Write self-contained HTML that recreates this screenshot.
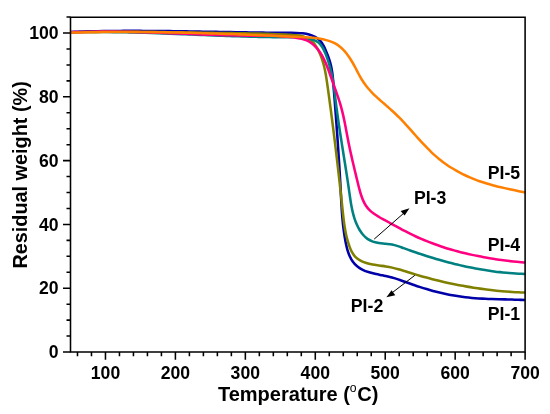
<!DOCTYPE html>
<html><head><meta charset="utf-8"><title>TGA</title><style>html,body{margin:0;padding:0;background:#fff}body{width:550px;height:414px;overflow:hidden}</style></head><body>
<svg width="550" height="414" viewBox="0 0 550 414" style="display:block">
<rect width="550" height="414" fill="#fff"/>
<g fill="none" stroke-width="2.55" stroke-linejoin="round" stroke-linecap="butt">
<path d="M70.50 31.90 C71.60 31.86 74.90 31.75 77.11 31.68 C79.33 31.61 81.55 31.54 83.77 31.48 C85.98 31.42 88.20 31.37 90.41 31.32 C92.63 31.27 94.84 31.22 97.06 31.18 C99.27 31.14 101.48 31.10 103.69 31.07 C105.91 31.04 108.12 31.01 110.33 30.99 C112.54 30.96 114.75 30.94 116.96 30.93 C119.17 30.91 121.37 30.90 123.58 30.89 C125.79 30.88 128.00 30.87 130.21 30.87 C132.41 30.87 134.62 30.87 136.83 30.88 C139.03 30.88 141.24 30.89 143.44 30.90 C145.65 30.91 147.86 30.92 150.06 30.93 C152.27 30.95 154.47 30.97 156.68 30.99 C158.88 31.01 161.09 31.03 163.29 31.05 C165.50 31.08 167.70 31.10 169.91 31.13 C172.11 31.16 174.32 31.19 176.52 31.22 C178.73 31.25 180.93 31.28 183.14 31.32 C185.34 31.35 187.55 31.38 189.75 31.42 C191.96 31.46 194.16 31.49 196.37 31.53 C198.58 31.57 200.78 31.61 202.99 31.65 C205.20 31.68 207.40 31.72 209.61 31.76 C211.82 31.80 214.03 31.84 216.23 31.88 C218.44 31.92 220.65 31.96 222.86 32.00 C225.07 32.04 227.28 32.08 229.49 32.12 C231.70 32.16 233.91 32.20 236.12 32.23 C238.34 32.27 240.55 32.31 242.76 32.34 C244.98 32.38 247.19 32.41 249.41 32.44 C251.62 32.48 253.84 32.51 256.05 32.54 C258.27 32.57 260.49 32.60 262.71 32.63 C264.93 32.65 267.15 32.68 269.37 32.70 C271.59 32.72 273.81 32.74 276.03 32.76 C278.26 32.78 280.48 32.80 282.71 32.81 C284.93 32.83 287.16 32.83 289.39 32.84 C291.61 32.86 293.85 32.83 296.06 32.91 C298.27 32.99 300.48 33.06 302.64 33.33 C304.80 33.60 306.94 33.93 309.01 34.53 C311.08 35.13 313.16 35.88 315.04 36.93 C316.93 37.99 318.83 39.30 320.31 40.86 C321.79 42.42 322.89 44.36 323.95 46.31 C325.00 48.25 325.76 50.44 326.62 52.53 C327.47 54.62 328.34 56.73 329.05 58.85 C329.76 60.97 330.38 63.10 330.89 65.24 C331.40 67.38 331.76 69.54 332.10 71.71 C332.43 73.87 332.66 76.05 332.88 78.23 C333.11 80.41 333.27 82.60 333.45 84.79 C333.63 86.98 333.80 89.17 333.97 91.37 C334.15 93.56 334.32 95.76 334.49 97.96 C334.67 100.16 334.84 102.36 335.01 104.56 C335.17 106.76 335.34 108.97 335.51 111.17 C335.68 113.38 335.84 115.58 336.01 117.79 C336.17 120.00 336.33 122.21 336.49 124.41 C336.65 126.62 336.81 128.83 336.97 131.04 C337.13 133.25 337.28 135.46 337.44 137.67 C337.59 139.89 337.74 142.10 337.89 144.31 C338.04 146.52 338.19 148.73 338.34 150.94 C338.48 153.15 338.63 155.36 338.77 157.57 C338.91 159.78 339.05 161.99 339.19 164.19 C339.32 166.40 339.46 168.61 339.59 170.81 C339.72 173.02 339.85 175.22 339.98 177.43 C340.10 179.63 340.23 181.83 340.35 184.03 C340.47 186.23 340.59 188.43 340.70 190.63 C340.82 192.82 340.93 195.02 341.04 197.21 C341.16 199.40 341.27 201.59 341.40 203.79 C341.53 205.98 341.66 208.17 341.81 210.37 C341.96 212.56 342.11 214.75 342.30 216.95 C342.48 219.15 342.68 221.35 342.92 223.55 C343.15 225.75 343.40 227.96 343.70 230.17 C343.99 232.38 344.31 234.60 344.67 236.82 C345.04 239.04 345.42 241.29 345.89 243.49 C346.36 245.70 346.85 247.93 347.50 250.05 C348.14 252.17 348.85 254.27 349.75 256.22 C350.64 258.17 351.65 260.05 352.88 261.74 C354.11 263.43 355.51 265.00 357.15 266.35 C358.79 267.70 360.71 268.84 362.72 269.83 C364.73 270.83 367.00 271.60 369.22 272.31 C371.44 273.01 373.81 273.55 376.04 274.06 C378.27 274.57 380.46 274.93 382.60 275.37 C384.74 275.80 386.78 276.17 388.86 276.67 C390.94 277.18 393.00 277.76 395.08 278.40 C397.17 279.04 399.25 279.78 401.34 280.51 C403.43 281.23 405.53 282.02 407.63 282.78 C409.73 283.53 411.83 284.29 413.94 285.02 C416.04 285.74 418.15 286.45 420.27 287.13 C422.38 287.81 424.50 288.46 426.62 289.09 C428.74 289.72 430.86 290.32 432.99 290.90 C435.12 291.47 437.26 292.02 439.40 292.54 C441.54 293.06 443.68 293.55 445.83 294.00 C447.98 294.46 450.14 294.89 452.30 295.28 C454.47 295.67 456.64 296.04 458.81 296.36 C460.99 296.69 463.17 296.98 465.36 297.24 C467.55 297.49 469.75 297.71 471.95 297.91 C474.15 298.10 476.36 298.26 478.57 298.40 C480.79 298.54 483.00 298.66 485.22 298.76 C487.44 298.87 489.66 298.95 491.87 299.02 C494.09 299.10 496.31 299.16 498.53 299.22 C500.75 299.28 502.97 299.33 505.18 299.38 C507.39 299.44 509.60 299.49 511.81 299.56 C514.01 299.63 516.21 299.71 518.41 299.78 C520.61 299.86 523.90 299.96 525.00 300.00" stroke="#0000a8"/>
<path d="M70.50 32.30 C71.57 32.28 74.77 32.21 76.91 32.17 C79.05 32.13 81.19 32.09 83.33 32.05 C85.47 32.02 87.62 31.99 89.76 31.96 C91.91 31.93 94.06 31.91 96.21 31.89 C98.36 31.87 100.51 31.85 102.66 31.84 C104.81 31.82 106.97 31.82 109.12 31.81 C111.28 31.80 113.44 31.80 115.60 31.80 C117.75 31.79 119.91 31.80 122.08 31.80 C124.24 31.80 126.40 31.81 128.56 31.82 C130.72 31.83 132.88 31.84 135.05 31.86 C137.21 31.87 139.38 31.88 141.54 31.90 C143.70 31.92 145.87 31.94 148.03 31.96 C150.20 31.98 152.36 32.01 154.53 32.03 C156.69 32.05 158.86 32.08 161.02 32.11 C163.18 32.13 165.35 32.16 167.51 32.19 C169.67 32.22 171.84 32.25 174.00 32.28 C176.16 32.31 178.32 32.34 180.48 32.37 C182.64 32.41 184.80 32.44 186.96 32.47 C189.11 32.50 191.27 32.54 193.43 32.57 C195.58 32.60 197.73 32.64 199.89 32.67 C202.04 32.70 204.19 32.73 206.34 32.77 C208.49 32.80 210.63 32.83 212.78 32.86 C214.92 32.89 217.07 32.92 219.21 32.95 C221.35 32.98 223.48 33.01 225.62 33.04 C227.76 33.07 229.89 33.09 232.03 33.12 C234.16 33.15 236.30 33.18 238.43 33.21 C240.57 33.25 242.70 33.28 244.84 33.32 C246.98 33.35 249.12 33.39 251.26 33.43 C253.40 33.48 255.54 33.52 257.69 33.57 C259.84 33.63 261.99 33.68 264.15 33.74 C266.30 33.80 268.47 33.87 270.63 33.94 C272.80 34.02 274.97 34.10 277.15 34.18 C279.33 34.27 281.52 34.37 283.71 34.47 C285.90 34.58 288.11 34.67 290.31 34.81 C292.51 34.95 294.76 35.03 296.91 35.31 C299.06 35.58 301.21 35.87 303.21 36.46 C305.20 37.05 307.14 37.75 308.88 38.83 C310.61 39.91 312.19 41.35 313.60 42.95 C315.01 44.55 316.22 46.54 317.33 48.45 C318.44 50.36 319.39 52.40 320.25 54.40 C321.11 56.41 321.84 58.45 322.50 60.50 C323.16 62.55 323.71 64.62 324.21 66.70 C324.72 68.78 325.13 70.88 325.53 72.99 C325.92 75.10 326.25 77.22 326.58 79.34 C326.91 81.47 327.20 83.60 327.50 85.73 C327.80 87.87 328.10 90.00 328.39 92.14 C328.69 94.28 328.98 96.41 329.27 98.55 C329.56 100.69 329.85 102.83 330.14 104.97 C330.43 107.12 330.71 109.26 330.99 111.40 C331.28 113.54 331.56 115.68 331.83 117.82 C332.11 119.96 332.39 122.10 332.66 124.23 C332.93 126.37 333.21 128.51 333.47 130.64 C333.74 132.78 334.01 134.91 334.27 137.04 C334.54 139.18 334.80 141.31 335.06 143.44 C335.32 145.58 335.58 147.71 335.84 149.84 C336.09 151.97 336.35 154.11 336.60 156.24 C336.85 158.37 337.10 160.50 337.35 162.64 C337.60 164.77 337.85 166.91 338.10 169.04 C338.34 171.18 338.59 173.31 338.83 175.45 C339.07 177.59 339.31 179.73 339.55 181.87 C339.79 184.01 340.03 186.15 340.26 188.29 C340.50 190.44 340.73 192.58 340.97 194.73 C341.20 196.88 341.43 199.03 341.66 201.18 C341.89 203.33 342.12 205.49 342.35 207.65 C342.58 209.80 342.80 211.97 343.04 214.13 C343.28 216.29 343.51 218.45 343.79 220.60 C344.06 222.75 344.34 224.90 344.69 227.04 C345.03 229.17 345.39 231.30 345.83 233.40 C346.27 235.51 346.75 237.60 347.32 239.66 C347.88 241.73 348.50 243.78 349.24 245.79 C349.97 247.79 350.69 249.87 351.71 251.71 C352.72 253.55 353.86 255.37 355.32 256.84 C356.78 258.31 358.63 259.51 360.47 260.52 C362.31 261.54 364.33 262.28 366.36 262.94 C368.39 263.60 370.51 264.05 372.64 264.48 C374.77 264.90 376.97 265.18 379.15 265.51 C381.33 265.83 383.55 266.08 385.71 266.43 C387.88 266.78 390.04 267.16 392.16 267.63 C394.28 268.09 396.36 268.65 398.43 269.22 C400.50 269.79 402.55 270.44 404.60 271.07 C406.64 271.70 408.68 272.36 410.72 273.00 C412.77 273.63 414.82 274.26 416.87 274.87 C418.93 275.48 420.99 276.07 423.06 276.65 C425.13 277.23 427.20 277.80 429.28 278.35 C431.36 278.90 433.44 279.44 435.53 279.96 C437.62 280.48 439.71 280.98 441.81 281.47 C443.91 281.96 446.01 282.44 448.12 282.90 C450.22 283.36 452.33 283.80 454.45 284.23 C456.56 284.66 458.68 285.08 460.80 285.47 C462.92 285.87 465.04 286.25 467.17 286.62 C469.29 286.99 471.42 287.34 473.55 287.67 C475.69 288.01 477.82 288.33 479.96 288.63 C482.09 288.93 484.23 289.22 486.37 289.49 C488.51 289.76 490.65 290.01 492.79 290.25 C494.94 290.49 497.08 290.71 499.23 290.92 C501.37 291.12 503.52 291.31 505.66 291.48 C507.81 291.65 509.96 291.81 512.10 291.95 C514.25 292.09 516.39 292.20 518.54 292.31 C520.69 292.42 523.92 292.55 525.00 292.60" stroke="#808000"/>
<path d="M70.50 32.30 C71.54 32.28 74.66 32.22 76.74 32.19 C78.83 32.15 80.91 32.11 82.99 32.08 C85.08 32.06 87.16 32.04 89.24 32.02 C91.32 32.01 93.40 32.00 95.48 31.99 C97.56 31.99 99.64 31.99 101.72 32.00 C103.80 32.01 105.88 32.02 107.96 32.04 C110.03 32.06 112.11 32.08 114.19 32.11 C116.26 32.13 118.34 32.16 120.41 32.20 C122.49 32.24 124.56 32.28 126.64 32.32 C128.71 32.37 130.79 32.41 132.86 32.47 C134.93 32.52 137.01 32.57 139.08 32.63 C141.15 32.69 143.23 32.75 145.30 32.81 C147.37 32.88 149.44 32.94 151.52 33.01 C153.59 33.08 155.66 33.15 157.73 33.23 C159.80 33.30 161.87 33.38 163.94 33.46 C166.02 33.53 168.09 33.61 170.16 33.69 C172.23 33.77 174.30 33.85 176.37 33.94 C178.44 34.02 180.51 34.10 182.59 34.19 C184.66 34.27 186.73 34.36 188.80 34.44 C190.87 34.53 192.94 34.61 195.01 34.70 C197.09 34.78 199.16 34.87 201.23 34.95 C203.30 35.04 205.38 35.12 207.45 35.20 C209.52 35.29 211.59 35.37 213.67 35.45 C215.74 35.53 217.81 35.61 219.89 35.69 C221.96 35.77 224.04 35.85 226.11 35.92 C228.19 35.99 230.26 36.07 232.34 36.14 C234.42 36.21 236.49 36.28 238.57 36.34 C240.65 36.41 242.72 36.47 244.80 36.53 C246.88 36.59 248.96 36.65 251.04 36.70 C253.12 36.75 255.20 36.81 257.28 36.85 C259.36 36.90 261.44 36.94 263.53 36.98 C265.61 37.02 267.69 37.05 269.78 37.08 C271.86 37.11 273.95 37.14 276.03 37.16 C278.12 37.18 280.21 37.19 282.29 37.20 C284.38 37.21 286.47 37.22 288.56 37.22 C290.65 37.22 292.75 37.19 294.83 37.22 C296.91 37.26 298.99 37.28 301.05 37.44 C303.10 37.59 305.14 37.78 307.14 38.17 C309.14 38.55 311.15 39.01 313.04 39.75 C314.92 40.48 316.90 41.33 318.45 42.59 C320.01 43.85 321.24 45.59 322.37 47.31 C323.50 49.04 324.38 51.02 325.23 52.94 C326.08 54.86 326.80 56.85 327.48 58.83 C328.16 60.81 328.75 62.83 329.32 64.83 C329.89 66.83 330.42 68.82 330.91 70.82 C331.40 72.82 331.85 74.81 332.25 76.83 C332.66 78.85 333.00 80.90 333.33 82.95 C333.65 85.00 333.93 87.07 334.20 89.15 C334.48 91.22 334.72 93.30 334.97 95.38 C335.22 97.46 335.47 99.54 335.73 101.62 C335.98 103.69 336.25 105.76 336.52 107.82 C336.79 109.89 337.07 111.95 337.36 114.00 C337.64 116.06 337.94 118.11 338.23 120.16 C338.53 122.22 338.83 124.26 339.14 126.31 C339.44 128.35 339.75 130.40 340.07 132.44 C340.38 134.48 340.70 136.52 341.02 138.56 C341.34 140.61 341.66 142.64 341.98 144.68 C342.30 146.72 342.63 148.76 342.95 150.81 C343.28 152.85 343.61 154.89 343.93 156.93 C344.26 158.97 344.58 161.02 344.91 163.07 C345.23 165.11 345.55 167.16 345.87 169.22 C346.19 171.27 346.51 173.32 346.83 175.38 C347.15 177.44 347.46 179.50 347.77 181.57 C348.08 183.64 348.38 185.71 348.68 187.79 C348.98 189.86 349.27 191.95 349.57 194.03 C349.87 196.12 350.15 198.21 350.48 200.29 C350.81 202.36 351.14 204.44 351.53 206.49 C351.92 208.54 352.34 210.59 352.84 212.60 C353.34 214.61 353.88 216.60 354.52 218.54 C355.17 220.49 355.87 222.41 356.70 224.27 C357.53 226.14 358.45 227.98 359.50 229.73 C360.56 231.48 361.72 233.24 363.04 234.77 C364.37 236.30 365.82 237.77 367.45 238.91 C369.08 240.04 370.91 240.91 372.83 241.59 C374.76 242.26 376.89 242.60 379.00 242.95 C381.12 243.31 383.37 243.44 385.53 243.70 C387.68 243.97 389.89 244.16 391.95 244.56 C394.02 244.97 395.97 245.53 397.92 246.12 C399.87 246.72 401.74 247.46 403.66 248.14 C405.59 248.82 407.53 249.52 409.47 250.21 C411.42 250.90 413.39 251.59 415.35 252.27 C417.32 252.95 419.30 253.63 421.28 254.28 C423.26 254.94 425.24 255.59 427.22 256.22 C429.21 256.85 431.20 257.47 433.19 258.07 C435.18 258.68 437.18 259.27 439.18 259.84 C441.18 260.41 443.18 260.97 445.19 261.52 C447.19 262.06 449.20 262.59 451.21 263.10 C453.23 263.61 455.24 264.11 457.26 264.59 C459.28 265.07 461.30 265.53 463.33 265.98 C465.35 266.43 467.38 266.86 469.41 267.27 C471.45 267.69 473.48 268.08 475.52 268.46 C477.56 268.84 479.60 269.20 481.64 269.55 C483.69 269.89 485.73 270.22 487.79 270.52 C489.84 270.83 491.89 271.12 493.95 271.39 C496.00 271.66 498.06 271.91 500.13 272.14 C502.19 272.37 504.26 272.58 506.32 272.78 C508.39 272.97 510.47 273.14 512.54 273.30 C514.62 273.45 516.70 273.58 518.78 273.69 C520.85 273.81 523.96 273.95 525.00 274.00" stroke="#008080"/>
<path d="M70.50 32.20 C71.49 32.18 74.45 32.15 76.43 32.10 C78.41 32.05 80.40 31.96 82.38 31.90 C84.37 31.85 86.35 31.80 88.33 31.76 C90.31 31.72 92.30 31.69 94.28 31.66 C96.26 31.64 98.24 31.62 100.22 31.61 C102.20 31.60 104.18 31.59 106.15 31.59 C108.13 31.60 110.11 31.60 112.09 31.62 C114.07 31.63 116.04 31.65 118.02 31.67 C120.00 31.70 121.97 31.73 123.95 31.76 C125.93 31.80 127.90 31.84 129.88 31.88 C131.86 31.92 133.83 31.97 135.81 32.02 C137.78 32.07 139.76 32.13 141.73 32.19 C143.71 32.24 145.68 32.31 147.66 32.37 C149.63 32.43 151.61 32.50 153.58 32.57 C155.55 32.64 157.53 32.71 159.50 32.78 C161.48 32.86 163.45 32.93 165.43 33.01 C167.40 33.09 169.38 33.16 171.35 33.24 C173.33 33.32 175.30 33.40 177.28 33.48 C179.25 33.56 181.23 33.64 183.20 33.72 C185.18 33.80 187.15 33.88 189.13 33.96 C191.11 34.03 193.08 34.11 195.06 34.19 C197.04 34.27 199.01 34.34 200.99 34.42 C202.97 34.49 204.95 34.56 206.92 34.63 C208.90 34.70 210.88 34.77 212.86 34.84 C214.84 34.90 216.82 34.96 218.80 35.02 C220.78 35.08 222.76 35.14 224.74 35.19 C226.72 35.24 228.71 35.29 230.69 35.34 C232.67 35.38 234.65 35.42 236.64 35.46 C238.62 35.50 240.61 35.53 242.59 35.55 C244.58 35.58 246.57 35.60 248.55 35.62 C250.54 35.63 252.53 35.64 254.52 35.65 C256.50 35.66 258.49 35.66 260.48 35.68 C262.47 35.69 264.45 35.70 266.44 35.73 C268.42 35.76 270.41 35.79 272.38 35.85 C274.36 35.91 276.34 35.98 278.31 36.08 C280.29 36.17 282.25 36.29 284.22 36.44 C286.18 36.59 288.14 36.76 290.09 36.98 C292.04 37.19 293.99 37.43 295.93 37.73 C297.87 38.02 299.83 38.26 301.72 38.73 C303.61 39.21 305.52 39.73 307.27 40.57 C309.03 41.41 310.72 42.57 312.27 43.79 C313.81 45.00 315.24 46.42 316.55 47.88 C317.86 49.33 319.03 50.90 320.13 52.51 C321.22 54.13 322.20 55.84 323.13 57.58 C324.05 59.33 324.88 61.14 325.68 62.97 C326.48 64.81 327.20 66.69 327.92 68.57 C328.63 70.45 329.29 72.37 329.96 74.26 C330.64 76.16 331.29 78.06 331.95 79.94 C332.62 81.82 333.29 83.68 333.96 85.54 C334.62 87.39 335.29 89.23 335.95 91.08 C336.60 92.92 337.25 94.76 337.87 96.61 C338.49 98.46 339.10 100.31 339.68 102.18 C340.26 104.05 340.81 105.93 341.33 107.83 C341.85 109.73 342.33 111.65 342.79 113.58 C343.24 115.51 343.67 117.46 344.08 119.42 C344.49 121.37 344.88 123.34 345.26 125.30 C345.65 127.27 346.01 129.24 346.38 131.20 C346.75 133.17 347.11 135.13 347.48 137.08 C347.86 139.03 348.23 140.98 348.62 142.91 C349.01 144.84 349.41 146.76 349.81 148.67 C350.22 150.59 350.63 152.49 351.06 154.40 C351.48 156.30 351.91 158.20 352.34 160.10 C352.78 162.01 353.23 163.91 353.68 165.82 C354.13 167.73 354.59 169.64 355.05 171.56 C355.51 173.48 355.98 175.41 356.46 177.35 C356.93 179.29 357.41 181.25 357.90 183.22 C358.38 185.18 358.85 187.19 359.39 189.15 C359.92 191.12 360.45 193.11 361.08 195.02 C361.72 196.92 362.39 198.82 363.21 200.60 C364.02 202.39 364.90 204.12 365.96 205.71 C367.02 207.30 368.22 208.79 369.57 210.14 C370.92 211.49 372.47 212.68 374.06 213.83 C375.65 214.97 377.40 215.98 379.13 216.99 C380.85 218.00 382.64 218.94 384.39 219.90 C386.14 220.86 387.87 221.81 389.60 222.76 C391.33 223.71 393.06 224.66 394.79 225.61 C396.52 226.56 398.25 227.51 399.99 228.45 C401.73 229.39 403.48 230.32 405.23 231.24 C406.99 232.15 408.75 233.05 410.52 233.92 C412.30 234.80 414.08 235.65 415.87 236.48 C417.67 237.31 419.47 238.11 421.29 238.89 C423.10 239.67 424.93 240.43 426.76 241.17 C428.59 241.90 430.44 242.61 432.29 243.31 C434.14 244.00 436.00 244.67 437.86 245.32 C439.73 245.97 441.60 246.59 443.49 247.20 C445.37 247.81 447.26 248.40 449.15 248.97 C451.05 249.54 452.95 250.08 454.86 250.61 C456.77 251.14 458.68 251.65 460.60 252.15 C462.52 252.64 464.44 253.11 466.37 253.57 C468.30 254.02 470.23 254.46 472.17 254.88 C474.10 255.31 476.05 255.71 477.99 256.10 C479.93 256.49 481.88 256.86 483.83 257.21 C485.78 257.57 487.73 257.91 489.69 258.24 C491.64 258.56 493.60 258.87 495.56 259.17 C497.52 259.46 499.48 259.75 501.44 260.01 C503.40 260.28 505.36 260.54 507.32 260.78 C509.28 261.02 511.24 261.25 513.20 261.46 C515.16 261.68 517.11 261.90 519.08 262.07 C521.04 262.25 524.01 262.43 525.00 262.50" stroke="#ff0080"/>
<path d="M70.50 32.60 C71.36 32.59 73.95 32.58 75.69 32.55 C77.42 32.52 79.17 32.47 80.91 32.43 C82.65 32.39 84.39 32.35 86.13 32.32 C87.87 32.29 89.61 32.26 91.35 32.23 C93.09 32.20 94.83 32.17 96.57 32.15 C98.30 32.12 100.04 32.10 101.78 32.08 C103.52 32.06 105.25 32.05 106.99 32.03 C108.73 32.02 110.46 32.01 112.20 32.00 C113.94 31.98 115.67 31.98 117.41 31.97 C119.14 31.96 120.88 31.96 122.61 31.96 C124.35 31.96 126.08 31.96 127.82 31.96 C129.55 31.96 131.29 31.97 133.02 31.97 C134.76 31.98 136.49 31.99 138.22 32.00 C139.96 32.01 141.69 32.02 143.42 32.03 C145.16 32.05 146.89 32.06 148.62 32.08 C150.36 32.10 152.09 32.12 153.82 32.14 C155.56 32.16 157.29 32.18 159.02 32.21 C160.75 32.23 162.49 32.26 164.22 32.28 C165.95 32.31 167.68 32.34 169.42 32.37 C171.15 32.40 172.88 32.44 174.61 32.47 C176.34 32.51 178.08 32.54 179.81 32.58 C181.54 32.62 183.27 32.66 185.00 32.70 C186.74 32.74 188.47 32.78 190.20 32.82 C191.93 32.87 193.66 32.91 195.40 32.96 C197.13 33.00 198.86 33.05 200.59 33.10 C202.32 33.15 204.06 33.20 205.79 33.25 C207.52 33.30 209.25 33.35 210.99 33.40 C212.72 33.46 214.45 33.51 216.18 33.57 C217.92 33.63 219.65 33.68 221.38 33.74 C223.12 33.80 224.85 33.86 226.58 33.92 C228.32 33.98 230.05 34.04 231.78 34.10 C233.52 34.17 235.25 34.23 236.98 34.29 C238.72 34.36 240.45 34.42 242.19 34.49 C243.92 34.55 245.66 34.62 247.39 34.69 C249.13 34.76 250.86 34.83 252.60 34.90 C254.33 34.97 256.07 35.04 257.80 35.11 C259.54 35.18 261.28 35.25 263.01 35.32 C264.75 35.39 266.49 35.47 268.23 35.54 C269.96 35.61 271.70 35.69 273.44 35.76 C275.18 35.84 276.92 35.91 278.65 35.99 C280.39 36.07 282.13 36.14 283.87 36.22 C285.61 36.30 287.35 36.38 289.09 36.45 C290.83 36.53 292.57 36.61 294.32 36.69 C296.06 36.77 297.80 36.84 299.54 36.93 C301.28 37.01 303.03 37.08 304.77 37.18 C306.51 37.27 308.25 37.37 309.98 37.51 C311.71 37.64 313.44 37.80 315.16 38.00 C316.88 38.21 318.59 38.45 320.29 38.76 C321.99 39.07 323.68 39.42 325.35 39.86 C327.03 40.30 328.70 40.79 330.32 41.39 C331.94 42.00 333.55 42.67 335.05 43.47 C336.55 44.28 337.98 45.20 339.33 46.21 C340.68 47.23 341.93 48.37 343.13 49.58 C344.33 50.78 345.45 52.09 346.52 53.45 C347.60 54.80 348.60 56.24 349.57 57.71 C350.55 59.17 351.46 60.70 352.36 62.24 C353.25 63.77 354.10 65.35 354.95 66.92 C355.79 68.48 356.59 70.07 357.42 71.64 C358.25 73.20 359.06 74.76 359.92 76.29 C360.77 77.81 361.63 79.33 362.57 80.78 C363.50 82.24 364.47 83.65 365.50 85.02 C366.53 86.39 367.62 87.71 368.74 89.00 C369.86 90.30 371.03 91.54 372.23 92.77 C373.42 94.00 374.66 95.20 375.91 96.38 C377.17 97.57 378.45 98.72 379.74 99.88 C381.03 101.04 382.35 102.17 383.66 103.32 C384.96 104.46 386.29 105.59 387.60 106.74 C388.91 107.89 390.23 109.03 391.52 110.20 C392.82 111.37 394.10 112.55 395.36 113.75 C396.62 114.96 397.87 116.18 399.09 117.42 C400.32 118.66 401.53 119.92 402.72 121.19 C403.92 122.46 405.11 123.74 406.28 125.03 C407.46 126.32 408.63 127.62 409.79 128.92 C410.96 130.22 412.11 131.53 413.27 132.83 C414.43 134.14 415.58 135.45 416.74 136.74 C417.90 138.04 419.06 139.34 420.23 140.63 C421.41 141.91 422.58 143.19 423.77 144.46 C424.95 145.72 426.15 146.97 427.36 148.21 C428.57 149.44 429.80 150.66 431.04 151.86 C432.29 153.05 433.55 154.23 434.83 155.37 C436.12 156.52 437.42 157.65 438.75 158.74 C440.08 159.83 441.44 160.89 442.82 161.93 C444.20 162.96 445.60 163.97 447.03 164.94 C448.45 165.92 449.90 166.87 451.36 167.78 C452.83 168.70 454.32 169.59 455.82 170.45 C457.32 171.31 458.85 172.14 460.39 172.94 C461.92 173.75 463.48 174.52 465.05 175.26 C466.62 176.01 468.21 176.72 469.80 177.41 C471.40 178.10 473.01 178.76 474.63 179.39 C476.25 180.02 477.89 180.63 479.53 181.20 C481.17 181.77 482.83 182.32 484.49 182.84 C486.14 183.36 487.81 183.85 489.49 184.33 C491.16 184.80 492.84 185.25 494.52 185.69 C496.21 186.12 497.90 186.54 499.59 186.94 C501.28 187.35 502.98 187.74 504.67 188.12 C506.37 188.50 508.07 188.88 509.76 189.25 C511.46 189.62 513.15 189.98 514.85 190.35 C516.54 190.72 518.23 191.09 519.92 191.45 C521.61 191.81 524.15 192.33 525.00 192.50" stroke="#ff8000"/>
</g>
<g stroke="#000" stroke-width="1.55" fill="none" stroke-linecap="butt">
<path d="M70.5 16.4 V352.0 H525.1 V17.2 H70.5"/>
<path d="M77.49 352.0v4.3M91.48 352.0v4.3M105.47 352.0v7.7M119.46 352.0v4.3M133.45 352.0v4.3M147.43 352.0v4.3M161.42 352.0v4.3M175.41 352.0v7.7M189.40 352.0v4.3M203.39 352.0v4.3M217.37 352.0v4.3M231.36 352.0v4.3M245.35 352.0v7.7M259.34 352.0v4.3M273.33 352.0v4.3M287.31 352.0v4.3M301.30 352.0v4.3M315.29 352.0v7.7M329.28 352.0v4.3M343.27 352.0v4.3M357.25 352.0v4.3M371.24 352.0v4.3M385.23 352.0v7.7M399.22 352.0v4.3M413.21 352.0v4.3M427.19 352.0v4.3M441.18 352.0v4.3M455.17 352.0v7.7M469.16 352.0v4.3M483.15 352.0v4.3M497.13 352.0v4.3M511.12 352.0v4.3M70.5 352.00h-7.5M70.5 336.05h-4.0M70.5 320.10h-4.0M70.5 304.15h-4.0M70.5 288.20h-7.5M70.5 272.25h-4.0M70.5 256.30h-4.0M70.5 240.35h-4.0M70.5 224.40h-7.5M70.5 208.45h-4.0M70.5 192.50h-4.0M70.5 176.55h-4.0M70.5 160.60h-7.5M70.5 144.65h-4.0M70.5 128.70h-4.0M70.5 112.75h-4.0M70.5 96.80h-7.5M70.5 80.85h-4.0M70.5 64.90h-4.0M70.5 48.95h-4.0M70.5 33.00h-7.5M70.5 17.05h-4.0M525.11 352.0v7.7"/>
</g>
<g stroke="#000" stroke-width="1" fill="#000">
<line x1="374.2" y1="239.1" x2="405" y2="212.1"/>
<polygon points="409.5,208.2 404.6,215.6 400.6,211.0" stroke="none"/>
<line x1="414.9" y1="275.3" x2="391" y2="293.6"/>
<polygon points="386.4,297.3 391.6,290.3 395.3,295.2" stroke="none"/>
</g>
<g font-family="'Liberation Sans', Arial, sans-serif" font-weight="bold" fill="#000">
<g font-size="17.6px" text-anchor="middle">
<text x="105.5" y="378.5">100</text>
<text x="175.4" y="378.5">200</text>
<text x="245.3" y="378.5">300</text>
<text x="315.3" y="378.5">400</text>
<text x="385.2" y="378.5">500</text>
<text x="455.2" y="378.5">600</text>
<text x="525.1" y="378.5">700</text>
</g>
<g font-size="17.6px" text-anchor="end">
<text x="58.5" y="358.1">0</text>
<text x="58.5" y="294.3">20</text>
<text x="58.5" y="230.5">40</text>
<text x="58.5" y="166.7">60</text>
<text x="58.5" y="102.9">80</text>
<text x="58.5" y="39.1">100</text>
</g>
<text x="217.9" y="400.8" font-size="20.05px">Temperature (<tspan font-size="12.2px" font-weight="normal" dy="-8.9" dx="-0.3">o</tspan><tspan dy="8.9" dx="0.7">C)</tspan></text>
<text transform="translate(26.6 174.9) rotate(-90)" font-size="19.85px" text-anchor="middle">Residual weight (%)</text>
<g font-size="17.7px">
<text x="487.7" y="179.0">PI-5</text>
<text x="413.9" y="203.8">PI-3</text>
<text x="487.7" y="251.2">PI-4</text>
<text x="350.8" y="312.3">PI-2</text>
<text x="487.7" y="320.0">PI-1</text>
</g>
</g>
</svg>
</body></html>
